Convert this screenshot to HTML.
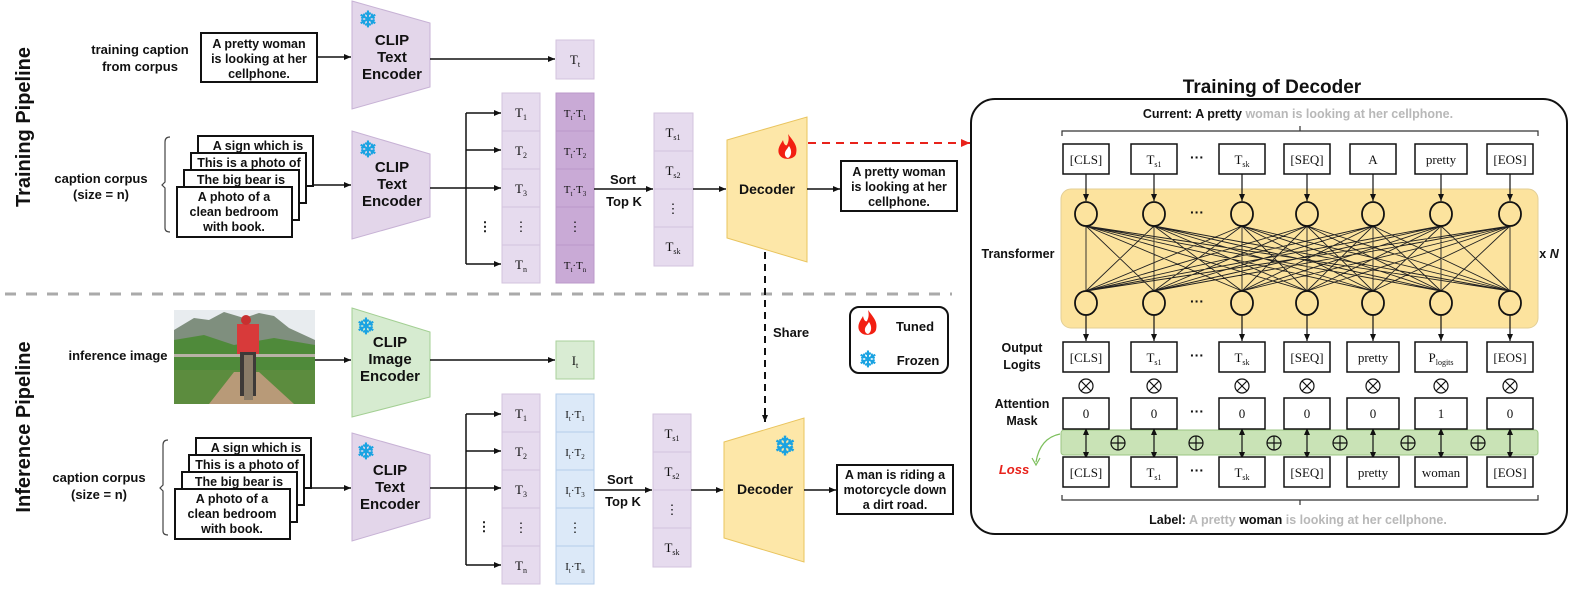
<!DOCTYPE html>
<html><head><meta charset="utf-8"><style>
html,body{margin:0;padding:0;background:#fff}
svg{display:block}
text{font-family:"Liberation Sans",sans-serif;font-weight:bold;fill:#111}
.s{font-family:"Liberation Serif",serif;font-weight:normal}
</style></head><body>
<svg width="1578" height="589" viewBox="0 0 1578 589" xmlns="http://www.w3.org/2000/svg">
<defs>
<marker id="a" markerWidth="8" markerHeight="8" refX="7" refY="4" orient="auto" markerUnits="userSpaceOnUse"><path d="M0,1 L7,4 L0,7z" fill="#111"/></marker>
<marker id="ar" markerWidth="10" markerHeight="10" refX="9" refY="5" orient="auto" markerUnits="userSpaceOnUse"><path d="M0,1 L9,5 L0,9z" fill="#e8221b"/></marker>
<marker id="ab" markerWidth="8" markerHeight="8" refX="4" refY="4" orient="auto-start-reverse" markerUnits="userSpaceOnUse"><path d="M0,1 L7,4 L0,7z" fill="#111"/></marker>
<g id="flame"><path d="M0,-14 C6,-6 10,-2 8,6 C6,12 -6,13 -9,6 C-11,0 -7,-4 -5,-8 C-4,-3 -2,-2 -1,-3 C1,-7 1,-10 0,-14z" fill="#f21f12"/><path d="M1,-2 C4,2 4,8 0,10 C-4,9 -4,4 -1,1z" fill="#fff"/></g>
</defs>

<!-- Pipeline labels -->
<text transform="translate(30,127) rotate(-90)" text-anchor="middle" font-size="20">Training Pipeline</text>
<text transform="translate(30,427) rotate(-90)" text-anchor="middle" font-size="20">Inference Pipeline</text>

<!-- ===== TRAINING ===== -->
<text x="140" y="54" text-anchor="middle" font-size="13">training caption</text>
<text x="140" y="71" text-anchor="middle" font-size="13">from corpus</text>
<rect x="201" y="33" width="116" height="49" fill="#fff" stroke="#111" stroke-width="2"/>
<text x="259" y="48" text-anchor="middle" font-size="12.5">A pretty woman</text>
<text x="259" y="63" text-anchor="middle" font-size="12.5">is looking at her</text>
<text x="259" y="78" text-anchor="middle" font-size="12.5">cellphone.</text>
<line x1="317" y1="57" x2="351" y2="57" stroke="#111" stroke-width="1.5" marker-end="url(#a)"/>

<polygon points="352,1 430,23 430,87 352,109" fill="#e3d6ea" stroke="#c7b2d5"/>
<text x="368" y="27" text-anchor="middle" font-size="22" style="fill:#1aa3e2">❄</text>
<text x="392" y="45" text-anchor="middle" font-size="15">CLIP</text>
<text x="392" y="62" text-anchor="middle" font-size="15">Text</text>
<text x="392" y="79" text-anchor="middle" font-size="15">Encoder</text>
<line x1="430" y1="59" x2="555" y2="59" stroke="#111" stroke-width="1.5" marker-end="url(#a)"/>
<rect x="556" y="40" width="38" height="39" fill="#e6dbee" stroke="#d3c3de"/>
<text x="575" y="64" text-anchor="middle" class="s" font-size="13">T<tspan font-size="8" dy="3">t</tspan></text>

<text x="101" y="183" text-anchor="middle" font-size="13">caption corpus</text>
<text x="101" y="199" text-anchor="middle" font-size="13">(size = n)</text>
<path d="M170,137 Q165,137 165,142 L165,182 L162,185 L165,188 L165,228 Q165,232 170,232" fill="none" stroke="#444" stroke-width="1.2"/>
<g font-size="12.5">
<rect x="198" y="136" width="115" height="50" fill="#fff" stroke="#111" stroke-width="2"/>
<text x="258" y="150" text-anchor="middle">A sign which is</text>
<rect x="191" y="153" width="115" height="50" fill="#fff" stroke="#111" stroke-width="2"/>
<text x="249" y="167" text-anchor="middle">This is a photo of</text>
<rect x="184" y="170" width="115" height="50" fill="#fff" stroke="#111" stroke-width="2"/>
<text x="241" y="184" text-anchor="middle">The big bear is</text>
<rect x="177" y="187" width="115" height="50" fill="#fff" stroke="#111" stroke-width="2"/>
<text x="234" y="201" text-anchor="middle">A photo of a</text>
<text x="234" y="216" text-anchor="middle">clean bedroom</text>
<text x="234" y="231" text-anchor="middle">with book.</text>
</g>
<line x1="313" y1="185" x2="351" y2="185" stroke="#111" stroke-width="1.5" marker-end="url(#a)"/>

<polygon points="352,131 430,154 430,217 352,239" fill="#e3d6ea" stroke="#c7b2d5"/>
<text x="368" y="157" text-anchor="middle" font-size="22" style="fill:#1aa3e2">❄</text>
<text x="392" y="172" text-anchor="middle" font-size="15">CLIP</text>
<text x="392" y="189" text-anchor="middle" font-size="15">Text</text>
<text x="392" y="206" text-anchor="middle" font-size="15">Encoder</text>
<g stroke="#111" stroke-width="1.5" fill="none">
<line x1="430" y1="188" x2="466" y2="188"/>
<line x1="466" y1="113" x2="466" y2="264"/>
<line x1="466" y1="113" x2="501" y2="113" marker-end="url(#a)"/>
<line x1="466" y1="150" x2="501" y2="150" marker-end="url(#a)"/>
<line x1="466" y1="188" x2="501" y2="188" marker-end="url(#a)"/>
<line x1="466" y1="264" x2="501" y2="264" marker-end="url(#a)"/>
</g>
<text x="485" y="231" text-anchor="middle" font-size="13">⋮</text>
<!-- T column -->
<g fill="#e6dbee" stroke="#d3c3de">
<rect x="502" y="93" width="38" height="38"/><rect x="502" y="131" width="38" height="38"/><rect x="502" y="169" width="38" height="38"/><rect x="502" y="207" width="38" height="38"/><rect x="502" y="245" width="38" height="38"/>
</g>
<g class="s" font-size="13" text-anchor="middle">
<text x="521" y="117" class="s">T<tspan font-size="8" dy="3">1</tspan></text>
<text x="521" y="155" class="s">T<tspan font-size="8" dy="3">2</tspan></text>
<text x="521" y="193" class="s">T<tspan font-size="8" dy="3">3</tspan></text>
<text x="521" y="231" class="s">⋮</text>
<text x="521" y="269" class="s">T<tspan font-size="8" dy="3">n</tspan></text>
</g>
<g fill="#c9aad6" stroke="#bb98c9">
<rect x="556" y="93" width="38" height="38"/><rect x="556" y="131" width="38" height="38"/><rect x="556" y="169" width="38" height="38"/><rect x="556" y="207" width="38" height="38"/><rect x="556" y="245" width="38" height="38"/>
</g>
<g font-size="11" text-anchor="middle">
<text x="575" y="117" class="s">T<tspan font-size="7" dy="3">t</tspan><tspan dy="-3">·T</tspan><tspan font-size="7" dy="3">1</tspan></text>
<text x="575" y="155" class="s">T<tspan font-size="7" dy="3">t</tspan><tspan dy="-3">·T</tspan><tspan font-size="7" dy="3">2</tspan></text>
<text x="575" y="193" class="s">T<tspan font-size="7" dy="3">t</tspan><tspan dy="-3">·T</tspan><tspan font-size="7" dy="3">3</tspan></text>
<text x="575" y="231" class="s" font-size="13">⋮</text>
<text x="575" y="269" class="s">T<tspan font-size="7" dy="3">t</tspan><tspan dy="-3">·T</tspan><tspan font-size="7" dy="3">n</tspan></text>
</g>
<text x="623" y="184" text-anchor="middle" font-size="13">Sort</text>
<text x="624" y="206" text-anchor="middle" font-size="13">Top K</text>
<line x1="594" y1="189" x2="653" y2="189" stroke="#111" stroke-width="1.5" marker-end="url(#a)"/>
<g fill="#e6dbee" stroke="#d3c3de">
<rect x="654" y="113" width="39" height="38"/><rect x="654" y="151" width="39" height="38"/><rect x="654" y="189" width="39" height="38"/><rect x="654" y="227" width="39" height="39"/>
</g>
<g font-size="13" text-anchor="middle">
<text x="673" y="137" class="s">T<tspan font-size="8" dy="3">s1</tspan></text>
<text x="673" y="175" class="s">T<tspan font-size="8" dy="3">s2</tspan></text>
<text x="673" y="213" class="s">⋮</text>
<text x="673" y="251" class="s">T<tspan font-size="8" dy="3">sk</tspan></text>
</g>
<line x1="693" y1="189" x2="726" y2="189" stroke="#111" stroke-width="1.5" marker-end="url(#a)"/>
<polygon points="727,140 807,117 807,262 727,238" fill="#fde7a8" stroke="#e9c45e"/>
<use href="#flame" x="788" y="148"/>
<text x="767" y="194" text-anchor="middle" font-size="14">Decoder</text>
<line x1="807" y1="189" x2="840" y2="189" stroke="#111" stroke-width="1.5" marker-end="url(#a)"/>
<rect x="841" y="161" width="116" height="50" fill="#fff" stroke="#111" stroke-width="2"/>
<text x="899" y="176" text-anchor="middle" font-size="12.5">A pretty woman</text>
<text x="899" y="191" text-anchor="middle" font-size="12.5">is looking at her</text>
<text x="899" y="206" text-anchor="middle" font-size="12.5">cellphone.</text>
<line x1="808" y1="143" x2="970" y2="143" stroke="#e8221b" stroke-width="2" stroke-dasharray="8 6" marker-end="url(#ar)"/>

<!-- divider -->
<line x1="5" y1="294" x2="952" y2="294" stroke="#aaa" stroke-width="3" stroke-dasharray="11 10"/>
<line x1="765" y1="252" x2="765" y2="422" stroke="#111" stroke-width="2" stroke-dasharray="7 5" marker-end="url(#a)"/>
<text x="773" y="337" font-size="13">Share</text>
<rect x="850" y="307" width="98" height="66" rx="9" fill="#fff" stroke="#111" stroke-width="2"/>
<use href="#flame" x="868" y="324"/>
<text x="915" y="331" text-anchor="middle" font-size="13">Tuned</text>
<text x="868" y="367" text-anchor="middle" font-size="22" style="fill:#1aa3e2">❄</text>
<text x="918" y="365" text-anchor="middle" font-size="13">Frozen</text>

<!-- ===== INFERENCE ===== -->
<text x="118" y="360" text-anchor="middle" font-size="13">inference image</text>
<svg x="174" y="310" width="141" height="94" viewBox="0 0 141 94">
<rect width="141" height="94" fill="#e8ecef"/>
<path d="M0,20 L20,8 L35,10 L50,2 L70,8 L85,3 L100,6 L115,18 L141,30 L141,45 L0,45z" fill="#7f8f7e"/>
<path d="M0,30 L30,25 L60,35 L100,28 L141,35 L141,70 L0,70z" fill="#4f8a3a"/>
<rect x="0" y="44" width="141" height="3" fill="#b8b2a6"/>
<path d="M0,60 L141,60 L141,94 L0,94z" fill="#5c8c3e"/>
<path d="M35,94 L60,62 L85,62 L120,94z" fill="#b89a78"/>
<rect x="63" y="14" width="22" height="30" fill="#d83a3a"/>
<circle cx="72" cy="10" r="5" fill="#c83030"/>
<rect x="66" y="42" width="16" height="44" fill="#3d3a38"/>
<rect x="70" y="45" width="9" height="45" fill="#8a7c68"/>
</svg>
<line x1="315" y1="360" x2="351" y2="360" stroke="#111" stroke-width="1.5" marker-end="url(#a)"/>
<polygon points="352,308 430,332 430,397 352,417" fill="#d6ebd0" stroke="#a3cf93"/>
<text x="366" y="334" text-anchor="middle" font-size="22" style="fill:#1aa3e2">❄</text>
<text x="390" y="347" text-anchor="middle" font-size="15">CLIP</text>
<text x="390" y="364" text-anchor="middle" font-size="15">Image</text>
<text x="390" y="381" text-anchor="middle" font-size="15">Encoder</text>
<line x1="430" y1="360" x2="555" y2="360" stroke="#111" stroke-width="1.5" marker-end="url(#a)"/>
<rect x="556" y="341" width="38" height="38" fill="#d9ecd3" stroke="#a9d19b"/>
<text x="575" y="365" text-anchor="middle" class="s" font-size="13">I<tspan font-size="8" dy="3">t</tspan></text>

<text x="99" y="482" text-anchor="middle" font-size="13">caption corpus</text>
<text x="99" y="499" text-anchor="middle" font-size="13">(size = n)</text>
<path d="M168,440 Q163,440 163,445 L163,485 L160,488 L163,491 L163,531 Q163,535 168,535" fill="none" stroke="#444" stroke-width="1.2"/>
<g font-size="12.5">
<rect x="196" y="438" width="115" height="50" fill="#fff" stroke="#111" stroke-width="2"/>
<text x="256" y="452" text-anchor="middle">A sign which is</text>
<rect x="189" y="455" width="115" height="50" fill="#fff" stroke="#111" stroke-width="2"/>
<text x="247" y="469" text-anchor="middle">This is a photo of</text>
<rect x="182" y="472" width="115" height="50" fill="#fff" stroke="#111" stroke-width="2"/>
<text x="239" y="486" text-anchor="middle">The big bear is</text>
<rect x="175" y="489" width="115" height="50" fill="#fff" stroke="#111" stroke-width="2"/>
<text x="232" y="503" text-anchor="middle">A photo of a</text>
<text x="232" y="518" text-anchor="middle">clean bedroom</text>
<text x="232" y="533" text-anchor="middle">with book.</text>
</g>
<line x1="311" y1="488" x2="351" y2="488" stroke="#111" stroke-width="1.5" marker-end="url(#a)"/>
<polygon points="352,433 430,455 430,518 352,541" fill="#e3d6ea" stroke="#c7b2d5"/>
<text x="366" y="459" text-anchor="middle" font-size="22" style="fill:#1aa3e2">❄</text>
<text x="390" y="475" text-anchor="middle" font-size="15">CLIP</text>
<text x="390" y="492" text-anchor="middle" font-size="15">Text</text>
<text x="390" y="509" text-anchor="middle" font-size="15">Encoder</text>
<g stroke="#111" stroke-width="1.5" fill="none">
<line x1="430" y1="488" x2="466" y2="488"/>
<line x1="466" y1="414" x2="466" y2="565"/>
<line x1="466" y1="414" x2="501" y2="414" marker-end="url(#a)"/>
<line x1="466" y1="451" x2="501" y2="451" marker-end="url(#a)"/>
<line x1="466" y1="488" x2="501" y2="488" marker-end="url(#a)"/>
<line x1="466" y1="565" x2="501" y2="565" marker-end="url(#a)"/>
</g>
<text x="484" y="531" text-anchor="middle" font-size="13">⋮</text>
<g fill="#e6dbee" stroke="#d3c3de">
<rect x="502" y="394" width="38" height="38"/><rect x="502" y="432" width="38" height="38"/><rect x="502" y="470" width="38" height="38"/><rect x="502" y="508" width="38" height="38"/><rect x="502" y="546" width="38" height="38"/>
</g>
<g font-size="13" text-anchor="middle">
<text x="521" y="418" class="s">T<tspan font-size="8" dy="3">1</tspan></text>
<text x="521" y="456" class="s">T<tspan font-size="8" dy="3">2</tspan></text>
<text x="521" y="494" class="s">T<tspan font-size="8" dy="3">3</tspan></text>
<text x="521" y="532" class="s">⋮</text>
<text x="521" y="570" class="s">T<tspan font-size="8" dy="3">n</tspan></text>
</g>
<g fill="#dce9f8" stroke="#b5cdea">
<rect x="556" y="394" width="38" height="38"/><rect x="556" y="432" width="38" height="38"/><rect x="556" y="470" width="38" height="38"/><rect x="556" y="508" width="38" height="38"/><rect x="556" y="546" width="38" height="38"/>
</g>
<g font-size="11" text-anchor="middle">
<text x="575" y="418" class="s">I<tspan font-size="7" dy="3">t</tspan><tspan dy="-3">·T</tspan><tspan font-size="7" dy="3">1</tspan></text>
<text x="575" y="456" class="s">I<tspan font-size="7" dy="3">t</tspan><tspan dy="-3">·T</tspan><tspan font-size="7" dy="3">2</tspan></text>
<text x="575" y="494" class="s">I<tspan font-size="7" dy="3">t</tspan><tspan dy="-3">·T</tspan><tspan font-size="7" dy="3">3</tspan></text>
<text x="575" y="532" class="s" font-size="13">⋮</text>
<text x="575" y="570" class="s">I<tspan font-size="7" dy="3">t</tspan><tspan dy="-3">·T</tspan><tspan font-size="7" dy="3">n</tspan></text>
</g>
<text x="620" y="484" text-anchor="middle" font-size="13">Sort</text>
<text x="623" y="506" text-anchor="middle" font-size="13">Top K</text>
<line x1="594" y1="490" x2="652" y2="490" stroke="#111" stroke-width="1.5" marker-end="url(#a)"/>
<g fill="#e6dbee" stroke="#d3c3de">
<rect x="653" y="414" width="38" height="38"/><rect x="653" y="452" width="38" height="38"/><rect x="653" y="490" width="38" height="38"/><rect x="653" y="528" width="38" height="39"/>
</g>
<g font-size="13" text-anchor="middle">
<text x="672" y="438" class="s">T<tspan font-size="8" dy="3">s1</tspan></text>
<text x="672" y="476" class="s">T<tspan font-size="8" dy="3">s2</tspan></text>
<text x="672" y="514" class="s">⋮</text>
<text x="672" y="552" class="s">T<tspan font-size="8" dy="3">sk</tspan></text>
</g>
<line x1="691" y1="490" x2="723" y2="490" stroke="#111" stroke-width="1.5" marker-end="url(#a)"/>
<polygon points="724,442 804,418 804,562 724,538" fill="#fde7a8" stroke="#e9c45e"/>
<text x="785" y="455" text-anchor="middle" font-size="26" style="fill:#1aa3e2">❄</text>
<text x="765" y="494" text-anchor="middle" font-size="14">Decoder</text>
<line x1="804" y1="490" x2="836" y2="490" stroke="#111" stroke-width="1.5" marker-end="url(#a)"/>
<rect x="837" y="465" width="116" height="49" fill="#fff" stroke="#111" stroke-width="2"/>
<text x="895" y="479" text-anchor="middle" font-size="12.5">A man is riding a</text>
<text x="895" y="494" text-anchor="middle" font-size="12.5">motorcycle down</text>
<text x="895" y="509" text-anchor="middle" font-size="12.5">a dirt road.</text>

<!-- ===== TRAINING OF DECODER ===== -->
<text x="1272" y="93" text-anchor="middle" font-size="19">Training of Decoder</text>
<rect x="971" y="99" width="596" height="435" rx="24" fill="none" stroke="#111" stroke-width="2"/>
<text x="1298" y="118" text-anchor="middle" font-size="12.5">Current: A pretty <tspan style="fill:#b8b8b8">woman is looking at her cellphone.</tspan></text>
<path d="M1062,136 L1062,131 L1538,131 L1538,136 M1300,131 L1300,126" fill="none" stroke="#333" stroke-width="1.2"/>
<path d="M1062,495 L1062,500 L1538,500 L1538,495 M1300,500 L1300,505" fill="none" stroke="#333" stroke-width="1.2"/>
<text x="1298" y="524" text-anchor="middle" font-size="12.5">Label: <tspan style="fill:#b8b8b8">A pretty </tspan>woman<tspan style="fill:#b8b8b8"> is looking at her cellphone.</tspan></text>

<rect x="1061" y="189" width="477" height="139" rx="10" fill="#fce39e" stroke="#e3cf96"/>
<rect x="1061" y="430" width="477" height="25" rx="3" fill="#c9e3b6" stroke="#9bc683"/>

<text x="1018" y="258" text-anchor="middle" font-size="12.5">Transformer</text>
<text x="1549" y="258" text-anchor="middle" font-size="12.5">x <tspan font-style="italic">N</tspan></text>
<text x="1022" y="352" text-anchor="middle" font-size="12.5">Output</text>
<text x="1022" y="369" text-anchor="middle" font-size="12.5">Logits</text>
<text x="1022" y="408" text-anchor="middle" font-size="12.5">Attention</text>
<text x="1022" y="425" text-anchor="middle" font-size="12.5">Mask</text>
<text x="1014" y="474" text-anchor="middle" font-size="13" font-style="italic" style="fill:#e8221b">Loss</text>
<path d="M1060,434 Q1040,438 1036,462" fill="none" stroke="#7cbf5c" stroke-width="1.2"/>
<path d="M1032,458 L1036,465 L1040,458" fill="none" stroke="#7cbf5c" stroke-width="1.2"/>

<path stroke="#222" stroke-width="0.9" fill="none" d="M1086 226L1086 291M1086 226L1154 291M1086 226L1242 291M1086 226L1307 291M1086 226L1373 291M1086 226L1441 291M1086 226L1510 291M1154 226L1086 291M1154 226L1154 291M1154 226L1242 291M1154 226L1307 291M1154 226L1373 291M1154 226L1441 291M1154 226L1510 291M1242 226L1086 291M1242 226L1154 291M1242 226L1242 291M1242 226L1307 291M1242 226L1373 291M1242 226L1441 291M1242 226L1510 291M1307 226L1086 291M1307 226L1154 291M1307 226L1242 291M1307 226L1307 291M1307 226L1373 291M1307 226L1441 291M1307 226L1510 291M1373 226L1086 291M1373 226L1154 291M1373 226L1242 291M1373 226L1307 291M1373 226L1373 291M1373 226L1441 291M1373 226L1510 291M1441 226L1086 291M1441 226L1154 291M1441 226L1242 291M1441 226L1307 291M1441 226L1373 291M1441 226L1441 291M1441 226L1510 291M1510 226L1086 291M1510 226L1154 291M1510 226L1242 291M1510 226L1307 291M1510 226L1373 291M1510 226L1441 291M1510 226L1510 291"/>

<g fill="#fce39e" stroke="#111" stroke-width="1.8">
<ellipse cx="1086" cy="214" rx="11" ry="12"/><ellipse cx="1154" cy="214" rx="11" ry="12"/><ellipse cx="1242" cy="214" rx="11" ry="12"/><ellipse cx="1307" cy="214" rx="11" ry="12"/><ellipse cx="1373" cy="214" rx="11" ry="12"/><ellipse cx="1441" cy="214" rx="11" ry="12"/><ellipse cx="1510" cy="214" rx="11" ry="12"/>
<ellipse cx="1086" cy="303" rx="11" ry="12"/><ellipse cx="1154" cy="303" rx="11" ry="12"/><ellipse cx="1242" cy="303" rx="11" ry="12"/><ellipse cx="1307" cy="303" rx="11" ry="12"/><ellipse cx="1373" cy="303" rx="11" ry="12"/><ellipse cx="1441" cy="303" rx="11" ry="12"/><ellipse cx="1510" cy="303" rx="11" ry="12"/>
</g>

<!-- arrows -->
<g stroke="#111" stroke-width="1.2">
<line x1="1086" y1="174" x2="1086" y2="201" marker-end="url(#a)"/><line x1="1154" y1="174" x2="1154" y2="201" marker-end="url(#a)"/><line x1="1242" y1="174" x2="1242" y2="201" marker-end="url(#a)"/><line x1="1307" y1="174" x2="1307" y2="201" marker-end="url(#a)"/><line x1="1373" y1="174" x2="1373" y2="201" marker-end="url(#a)"/><line x1="1441" y1="174" x2="1441" y2="201" marker-end="url(#a)"/><line x1="1510" y1="174" x2="1510" y2="201" marker-end="url(#a)"/>
<line x1="1086" y1="315" x2="1086" y2="341" marker-end="url(#a)"/><line x1="1154" y1="315" x2="1154" y2="341" marker-end="url(#a)"/><line x1="1242" y1="315" x2="1242" y2="341" marker-end="url(#a)"/><line x1="1307" y1="315" x2="1307" y2="341" marker-end="url(#a)"/><line x1="1373" y1="315" x2="1373" y2="341" marker-end="url(#a)"/><line x1="1441" y1="315" x2="1441" y2="341" marker-end="url(#a)"/><line x1="1510" y1="315" x2="1510" y2="341" marker-end="url(#a)"/>
<line x1="1086" y1="431" x2="1086" y2="456" marker-start="url(#ab)" marker-end="url(#ab)"/><line x1="1154" y1="431" x2="1154" y2="456" marker-start="url(#ab)" marker-end="url(#ab)"/><line x1="1242" y1="431" x2="1242" y2="456" marker-start="url(#ab)" marker-end="url(#ab)"/><line x1="1307" y1="431" x2="1307" y2="456" marker-start="url(#ab)" marker-end="url(#ab)"/><line x1="1373" y1="431" x2="1373" y2="456" marker-start="url(#ab)" marker-end="url(#ab)"/><line x1="1441" y1="431" x2="1441" y2="456" marker-start="url(#ab)" marker-end="url(#ab)"/><line x1="1510" y1="431" x2="1510" y2="456" marker-start="url(#ab)" marker-end="url(#ab)"/>
</g>

<!-- token boxes -->
<g fill="#fff" stroke="#111" stroke-width="1.5">
<rect x="1063" y="144" width="46" height="30"/><rect x="1131" y="144" width="46" height="30"/><rect x="1219" y="144" width="46" height="30"/><rect x="1284" y="144" width="46" height="30"/><rect x="1350" y="144" width="46" height="30"/><rect x="1415" y="144" width="52" height="30"/><rect x="1487" y="144" width="46" height="30"/>
<rect x="1063" y="342" width="46" height="30"/><rect x="1131" y="342" width="46" height="30"/><rect x="1219" y="342" width="46" height="30"/><rect x="1284" y="342" width="46" height="30"/><rect x="1347" y="342" width="52" height="30"/><rect x="1415" y="342" width="52" height="30"/><rect x="1487" y="342" width="46" height="30"/>
<rect x="1063" y="398" width="46" height="31"/><rect x="1131" y="398" width="46" height="31"/><rect x="1219" y="398" width="46" height="31"/><rect x="1284" y="398" width="46" height="31"/><rect x="1347" y="398" width="52" height="31"/><rect x="1415" y="398" width="52" height="31"/><rect x="1487" y="398" width="46" height="31"/>
<rect x="1063" y="457" width="46" height="30"/><rect x="1131" y="457" width="46" height="30"/><rect x="1219" y="457" width="46" height="30"/><rect x="1284" y="457" width="46" height="30"/><rect x="1347" y="457" width="52" height="30"/><rect x="1415" y="457" width="52" height="30"/><rect x="1487" y="457" width="46" height="30"/>
</g>
<g font-size="13" text-anchor="middle">
<text class="s" x="1086" y="164">[CLS]</text><text class="s" x="1154" y="164">T<tspan font-size="8" dy="3">s1</tspan></text><text class="s" x="1242" y="164">T<tspan font-size="8" dy="3">sk</tspan></text><text class="s" x="1307" y="164">[SEQ]</text><text class="s" x="1373" y="164">A</text><text class="s" x="1441" y="164">pretty</text><text class="s" x="1510" y="164">[EOS]</text>
<text class="s" x="1086" y="362">[CLS]</text><text class="s" x="1154" y="362">T<tspan font-size="8" dy="3">s1</tspan></text><text class="s" x="1242" y="362">T<tspan font-size="8" dy="3">sk</tspan></text><text class="s" x="1307" y="362">[SEQ]</text><text class="s" x="1373" y="362">pretty</text><text class="s" x="1441" y="362">P<tspan font-size="8" dy="3">logits</tspan></text><text class="s" x="1510" y="362">[EOS]</text>
<text class="s" x="1086" y="418">0</text><text class="s" x="1154" y="418">0</text><text class="s" x="1242" y="418">0</text><text class="s" x="1307" y="418">0</text><text class="s" x="1373" y="418">0</text><text class="s" x="1441" y="418">1</text><text class="s" x="1510" y="418">0</text>
<text class="s" x="1086" y="477">[CLS]</text><text class="s" x="1154" y="477">T<tspan font-size="8" dy="3">s1</tspan></text><text class="s" x="1242" y="477">T<tspan font-size="8" dy="3">sk</tspan></text><text class="s" x="1307" y="477">[SEQ]</text><text class="s" x="1373" y="477">pretty</text><text class="s" x="1441" y="477">woman</text><text class="s" x="1510" y="477">[EOS]</text>
</g>
<g font-size="14" text-anchor="middle">
<text x="1197" y="162">···</text><text x="1197" y="217">···</text><text x="1197" y="306">···</text><text x="1197" y="360">···</text><text x="1197" y="416">···</text><text x="1197" y="475">···</text>
</g>
<g fill="none" stroke="#111" stroke-width="1.2">
<circle cx="1086" cy="386" r="7"/><circle cx="1154" cy="386" r="7"/><circle cx="1242" cy="386" r="7"/><circle cx="1307" cy="386" r="7"/><circle cx="1373" cy="386" r="7"/><circle cx="1441" cy="386" r="7"/><circle cx="1510" cy="386" r="7"/>
<path d="M1081,381l10,10M1091,381l-10,10M1149,381l10,10M1159,381l-10,10M1237,381l10,10M1247,381l-10,10M1302,381l10,10M1312,381l-10,10M1368,381l10,10M1378,381l-10,10M1436,381l10,10M1446,381l-10,10M1505,381l10,10M1515,381l-10,10"/>
<circle cx="1118" cy="443" r="7"/><circle cx="1196" cy="443" r="7"/><circle cx="1274" cy="443" r="7"/><circle cx="1340" cy="443" r="7"/><circle cx="1408" cy="443" r="7"/><circle cx="1478" cy="443" r="7"/>
<path d="M1111,443h14M1118,436v14M1189,443h14M1196,436v14M1267,443h14M1274,436v14M1333,443h14M1340,436v14M1401,443h14M1408,436v14M1471,443h14M1478,436v14"/>
</g>
</svg>
</body></html>
